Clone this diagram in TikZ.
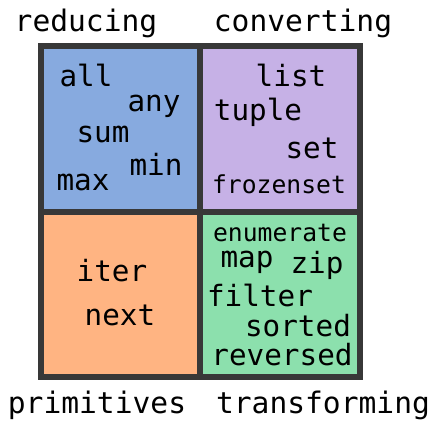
\documentclass[tikz,border=0pt]{standalone}
\usepackage{fontspec}
\setmonofont{DejaVu Sans Mono}
\definecolor{gridc}{HTML}{383838}
\definecolor{cblue}{HTML}{87AADF}
\definecolor{cpurple}{HTML}{C6B1E6}
\definecolor{corange}{HTML}{FFB482}
\definecolor{cgreen}{HTML}{8CE0AD}
\tikzset{
  big/.style={anchor=base,inner sep=0pt,font=\ttfamily\fontsize{29.3}{29.3}\selectfont},
  lbl/.style={anchor=base,inner sep=0pt,font=\ttfamily\fontsize{29.6}{29.6}\selectfont},
  small/.style={anchor=base,inner sep=0pt,font=\ttfamily\fontsize{24.7}{24.7}\selectfont},
  gridline/.style={draw=gridc,line width=6pt}
}
\begin{document}
\begin{tikzpicture}[x=1pt,y=-1pt]
\useasboundingbox (0,0) rectangle (439,430);
\fill[cblue] (41,46) rectangle (200,212);
\fill[cpurple] (200,46) rectangle (360,212);
\fill[corange] (41,212) rectangle (200,377);
\fill[cgreen] (200,212) rectangle (360,377);
\draw[gridline] (41,46) rectangle (360,377);
\draw[gridline] (200,46) -- (200,377);
\draw[gridline] (41,212) -- (360,212);
% labels
\node[lbl] (reducing) at (86,32) {reducing};
\node[lbl] (converting) at (303,32) {converting};
\node[lbl] (primitives) at (97,413) {primitives};
\node[lbl] (transforming) at (323,413) {transforming};
% blue
\node[big] (all) at (86,87) {all};
\node[big] (any) at (154,112) {any};
\node[big] (sum) at (103,143) {sum};
\node[big] (min) at (156,176) {min};
\node[big] (max) at (83,191) {max};
% purple
\node[big] (list) at (291,87) {list};
\node[big] (tuple) at (258,121) {tuple};
\node[big] (set) at (312,159) {set};
\node[small] (frozenset) at (279,194) {frozenset};
% orange
\node[big] (iter) at (112,282) {iter};
\node[big] (next) at (120,325) {next};
% green
\node[small] (enumerate) at (280,242) {enumerate};
\node[big] (map) at (247,268) {map};
\node[big] (zip) at (317,274) {zip};
\node[big] (filter) at (260,306) {filter};
\node[big] (sorted) at (298,337) {sorted};
\node[big] (reversed) at (282,365) {reversed};
\end{tikzpicture}
\end{document}
